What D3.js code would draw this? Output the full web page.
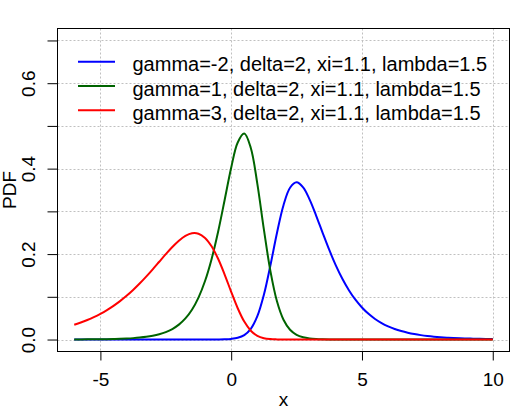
<!DOCTYPE html>
<html>
<head>
<meta charset="utf-8">
<script src="https://cdn.jsdelivr.net/npm/d3@7"></script>
<style>
  html, body { margin: 0; padding: 0; background: #fff; }
  svg { display: block; }
  text { font-family: "Liberation Sans", Arial, sans-serif; }
</style>
</head>
<body>
<svg id="chart" width="519" height="409"></svg>
<script>
// ---- data ----
const xs = [-6,-5.75,-5.5,-5.25,-5,-4.75,-4.5,-4.25,-4,-3.75,-3.5,-3.25,-3,-2.75,-2.5,-2.25,-2,-1.75,-1.5,-1.25,
  -1,-0.75,-0.5,-0.25,0,0.25,0.5,0.75,1,1.25,1.5,1.75,2,2.25,2.5,2.75,3,3.25,3.5,3.75,4,4.25,4.5,4.75,
  5,5.25,5.5,5.75,6,6.25,6.5,6.75,7,7.25,7.5,7.75,8,8.25,8.5,8.75,9,9.25,9.5,9.75,10];

const pdfGammaM2 = [0,0,0,0,0,0,0,0,0,0,0,0,0,0,0,0,0,0,0,0,
  0.00003,0.00008,0.00022,0.00057,0.00152,0.00403,0.01036,0.02497,0.05453,0.10467,0.17374,0.24952,
  0.31447,0.35530,0.36788,0.35605,0.32739,0.28968,0.24905,0.20959,0.17361,0.14218,0.11546,0.09322,
  0.07500,0.06012,0.04816,0.03855,0.03086,0.02472,0.01983,0.01592,0.01280,0.01032,0.00833,0.00674,
  0.00546,0.00444,0.00361,0.00295,0.00241,0.00198,0.00162,0.00134,0.00110];

const pdfGamma1 = [0.00023,0.00030,0.00040,0.00053,0.00071,0.00095,0.00129,0.00176,0.00240,0.00330,
  0.00456,0.00633,0.00884,0.01240,0.01745,0.02464,0.03487,0.04938,0.06982,0.09823,
  0.13698,0.18812,0.25232,0.32670,0.40210,0.46130,0.48208,0.44834,0.36453,0.25774,0.16013,0.08954,
  0.04642,0.02297,0.01111,0.00533,0.00257,0.00125,0.00062,0.00031,0.00016,0.00009,0.00005,0,
  0,0,0,0,0,0,0,0,0,0,0,0,0,0,0,0,0,0,0,0,0];

const pdfGamma3 = [0.03477,0.03992,0.04582,0.05256,0.06024,0.06896,0.07882,0.08991,0.10229,0.11599,
  0.13099,0.14718,0.16432,0.18205,0.19974,0.21656,0.23135,0.24264,0.24870,0.24768,
  0.23789,0.21826,0.18898,0.15209,0.11170,0.07327,0.04202,0.02070,0.00872,0.00317,0.00102,0.00031,
  0.00009,0.00003,0,0,0,0,0,0,0,0,0,0,
  0,0,0,0,0,0,0,0,0,0,0,0,0,0,0,0,0,0,0,0,0];

const seriesNames = [
  "gamma=-2, delta=2, xi=1.1, lambda=1.5",
  "gamma=1, delta=2, xi=1.1, lambda=1.5",
  "gamma=3, delta=2, xi=1.1, lambda=1.5"
];
const seriesColors = ["#0000FF", "#006400", "#FF0000"];
const xTickValues = [-5, 0, 5, 10];
const yTickValues = [0, 0.1, 0.2, 0.3, 0.4, 0.5, 0.6, 0.7];
const yTickLabels = ["0.0", "", "0.2", "", "0.4", "", "0.6", ""];
const xLimits = [-6, 10];
const yLimits = [0, 0.7];

// ---- layout ----
const svg = d3.select("#chart");
const L = 57.5, R = 509.5, T = 28.5, B = 351.5;
const fs = 19;
const legendFs = 20;

const xpad = (xLimits[1] - xLimits[0]) * 0.04;
const ypad = (yLimits[1] - yLimits[0]) * 0.04;
const x = d3.scaleLinear().domain([xLimits[0] - xpad, xLimits[1] + xpad]).range([L, R]);
const y = d3.scaleLinear().domain([yLimits[0] - ypad, yLimits[1] + ypad]).range([B, T]);

// grid
const grid = svg.append("g").attr("stroke", "#c0c0c0").attr("stroke-width", 1).attr("stroke-dasharray", "2,2");
grid.selectAll("line.v").data(xTickValues).enter().append("line")
  .attr("x1", d => Math.round(x(d)) + 0.5).attr("x2", d => Math.round(x(d)) + 0.5)
  .attr("y1", T).attr("y2", B);
grid.selectAll("line.h").data(yTickValues).enter().append("line")
  .attr("y1", d => Math.round(y(d)) + 0.5).attr("y2", d => Math.round(y(d)) + 0.5)
  .attr("x1", L).attr("x2", R);

// curves
const allSeries = [pdfGammaM2, pdfGamma1, pdfGamma3];
const line = d3.line()
  .x((d, i) => x(xs[i]))
  .y(d => y(d))
  .curve(d3.curveCatmullRom.alpha(0.5));
allSeries.forEach((s, k) => {
  svg.append("path")
    .attr("d", line(s))
    .attr("fill", "none")
    .attr("stroke", seriesColors[k])
    .attr("stroke-width", 2)
    .attr("stroke-linejoin", "round");
});

// axes
const xAxis = d3.axisBottom(x).tickValues(xTickValues).tickSize(9).tickSizeOuter(0).tickFormat(d3.format("d"));
const gx = svg.append("g").attr("transform", `translate(0,${B})`).call(xAxis);
gx.select(".domain").remove();
gx.selectAll(".tick line").attr("stroke", "#000").attr("stroke-width", 1);
gx.selectAll(".tick text")
  .attr("y", 34.5).attr("dy", null)
  .attr("font-size", fs).attr("fill", "#000")
  .style("font-family", '"Liberation Sans", Arial, sans-serif')
  .text(d => d < 0 ? "-" + Math.abs(d) : String(d));

const yAxis = d3.axisLeft(y).tickValues(yTickValues).tickSize(10).tickSizeOuter(0)
  .tickFormat((d, i) => yTickLabels[i]);
const gy = svg.append("g").attr("transform", `translate(${L},0)`).call(yAxis);
gy.select(".domain").remove();
gy.selectAll(".tick line").attr("stroke", "#000").attr("stroke-width", 1);
gy.selectAll(".tick text")
  .attr("x", 0).attr("y", -22.5).attr("dy", null)
  .attr("transform", "rotate(-90)")
  .attr("text-anchor", "middle")
  .attr("font-size", fs).attr("fill", "#000")
  .style("font-family", '"Liberation Sans", Arial, sans-serif');

// box
svg.append("rect").attr("x", L).attr("y", T).attr("width", R - L).attr("height", B - T)
  .attr("fill", "none").attr("stroke", "#000").attr("stroke-width", 1);

// axis titles
svg.append("text").attr("x", (L + R) / 2).attr("y", 406).attr("text-anchor", "middle")
  .attr("font-size", fs).text("x");
svg.append("text").attr("transform", `translate(16,${(T + B) / 2}) rotate(-90)`)
  .attr("text-anchor", "middle").attr("font-size", fs).text("PDF");

// legend
const legendY = [61.7, 86, 110.3];
const lg = svg.append("g");
seriesNames.forEach((name, k) => {
  lg.append("line").attr("x1", 78).attr("x2", 115)
    .attr("y1", legendY[k]).attr("y2", legendY[k])
    .attr("stroke", seriesColors[k]).attr("stroke-width", 2);
  lg.append("text").attr("x", 132.5).attr("y", legendY[k] + 9.5)
    .attr("font-size", legendFs).attr("fill", "#000").text(name);
});
</script>
</body>
</html>
